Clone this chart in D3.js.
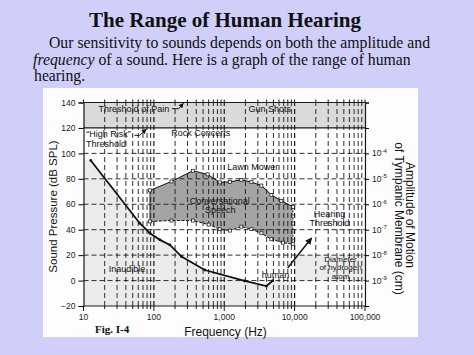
<!DOCTYPE html>
<html><head><meta charset="utf-8">
<script src="https://cdn.jsdelivr.net/npm/d3@7"></script>
<style>body{margin:0;background:#cfcff9;} svg{display:block}</style>
</head><body>
<script>
// ---- data ----
const freqTicks = [10, 100, 1000, 10000, 100000];
const freqTickLabels = ["10", "100", "1,000", "10,000", "100,000"];
const dbTicks = [-20, 0, 20, 40, 60, 80, 100, 120, 140];
const ampTickDb = [0, 20, 40, 60, 80, 100];
const ampExponents = ["-9", "-8", "-7", "-6", "-5", "-4"];

const thresholdFreq = [12.7, 63, 88, 122, 169, 247, 529, 1950, 3970, 4880];
const thresholdDb   = [94.4, 45.1, 37.2, 32, 28, 18.8, 8.3, -0.3, -4.3, -0.1];

const speechUpperFreq = [88, 178, 357, 580, 860, 1200, 1750, 2430, 3370, 4670, 6480, 9500];
const speechUpperDb   = [70.9, 77.9, 86.3, 83.5, 77.2, 77.6, 79.2, 77.4, 74.7, 67.4, 62.7, 58];
const speechLowerFreq = [88, 178, 360, 600, 860, 1200, 1750, 2430, 3370, 4670, 6800, 9500];
const speechLowerDb   = [46.5, 47.2, 47.2, 44, 40.4, 39.3, 42.4, 40.4, 37.2, 32.5, 29.8, 28.6];

const painBandDb = [120, 140];
const hydrogenBandDb = [0, 20];
const hydrogenBandFreq = [10000, 100000];
const humanArrowFreq = [7960, 17400];
const humanArrowDb = [9.9, 33.5];

// ---- drawing ----
const W = 474, H = 355;
const svg = d3.select("body").append("svg").attr("width", W).attr("height", H)
  .style("font-family", "'Liberation Sans', Arial, sans-serif");

svg.append("rect").attr("width", W).attr("height", H).attr("fill", "#cfcff9");

// title & paragraph
const serif = "'Liberation Serif', 'Times New Roman', serif";
svg.append("text").attr("x", 225).attr("y", 27).attr("text-anchor", "middle")
  .attr("font-family", serif).attr("font-weight", "bold").attr("font-size", 21)
  .attr("fill", "#111").text("The Range of Human Hearing");
const para = svg.append("g").attr("font-family", serif).attr("font-size", 15.75).attr("fill", "#111");
para.append("text").attr("x", 49).attr("y", 48).text("Our sensitivity to sounds depends on both the amplitude and");
const l2 = para.append("text").attr("x", 33).attr("y", 64.5);
l2.append("tspan").attr("font-style", "italic").text("frequency");
l2.append("tspan").text(" of a sound. Here is a graph of the range of human");
para.append("text").attr("x", 34).attr("y", 80.5).text("hearing.");

// white panel
svg.append("rect").attr("x", 43).attr("y", 88).attr("width", 375).attr("height", 249).attr("fill", "#fdfdfd");

const x = d3.scaleLog().domain([10, 100000]).range([83.5, 365]);
const y = d3.scaleLinear().domain([-20, 140]).range([306, 102.5]);

const g = svg.append("g");

// pain band
g.append("rect").attr("x", x(10)).attr("y", y(painBandDb[1]))
  .attr("width", x(100000) - x(10)).attr("height", y(painBandDb[0]) - y(painBandDb[1]))
  .attr("fill", "#dadada");

// inaudible region below threshold
const inaud = [[10, -20], [10, thresholdDb[0]]]
  .concat(thresholdFreq.map((f, i) => [f, thresholdDb[i]]))
  .concat([[10000, thresholdDb[thresholdDb.length - 1]], [10000, -20]]);
g.append("path").attr("d", d3.line().x(d => x(d[0])).y(d => y(d[1]))(inaud) + "Z")
  .attr("fill", "#ebebeb");

// hydrogen atom band
g.append("rect").attr("x", x(hydrogenBandFreq[0])).attr("y", y(hydrogenBandDb[1]))
  .attr("width", x(hydrogenBandFreq[1]) - x(hydrogenBandFreq[0]))
  .attr("height", y(hydrogenBandDb[0]) - y(hydrogenBandDb[1]))
  .attr("fill", "#ebebeb");

// speech region
const upper = speechUpperFreq.map((f, i) => [f, speechUpperDb[i]]);
const lower = speechLowerFreq.map((f, i) => [f, speechLowerDb[i]]);
const poly = upper.concat(lower.slice().reverse());
const line = d3.line().x(d => x(d[0])).y(d => y(d[1]));
g.append("path").attr("d", line(poly) + "Z").attr("fill", "#a4a4a4");

// grid
const minor = [];
[10, 100, 1000, 10000].forEach(d => { for (let m = 2; m <= 9; m++) minor.push(d * m); });
const verts = minor.concat([100, 1000, 10000]);
const dash = "5,3";
g.selectAll(".vg").data(verts).join("line")
  .attr("x1", d => x(d)).attr("x2", d => x(d)).attr("y1", y(-20)).attr("y2", y(140))
  .attr("stroke", "#1a1a1a").attr("stroke-width", d => freqTicks.includes(d) ? 1.2 : 0.9)
  .attr("stroke-dasharray", dash);
g.selectAll(".hg").data([0, 20, 40, 60, 80, 100]).join("line")
  .attr("x1", x(10)).attr("x2", x(100000)).attr("y1", d => y(d)).attr("y2", d => y(d))
  .attr("stroke", "#1a1a1a").attr("stroke-width", 0.9).attr("stroke-dasharray", dash);
// solid horizontals
g.selectAll(".hs").data([-20, 120, 140]).join("line")
  .attr("x1", x(10)).attr("x2", x(100000)).attr("y1", d => y(d)).attr("y2", d => y(d))
  .attr("stroke", "#1a1a1a").attr("stroke-width", 1.2);
// top/bottom small ticks
g.selectAll(".tt").data(verts.concat([10, 100000])).join("line")
  .attr("x1", d => x(d)).attr("x2", d => x(d)).attr("y1", y(140)).attr("y2", y(140) - 3)
  .attr("stroke", "#1a1a1a");
g.selectAll(".bt").data(verts.concat([10, 100000])).join("line")
  .attr("x1", d => x(d)).attr("x2", d => x(d)).attr("y1", y(-20))
  .attr("y2", d => y(-20) + (freqTicks.includes(d) ? 5 : 3))
  .attr("stroke", "#1a1a1a");

// left axis
const la = g.append("g").attr("transform", `translate(${x(10)},0)`)
  .call(d3.axisLeft(y).tickValues(dbTicks).tickSize(5).tickPadding(3));
la.select(".domain").attr("stroke", "#1a1a1a").attr("stroke-width", 1.2);
la.selectAll("text").attr("font-size", 8.5).attr("fill", "#222").attr("font-family", "'Liberation Sans', Arial, sans-serif");

// right axis
const ra = g.append("g").attr("transform", `translate(${x(100000)},0)`)
  .call(d3.axisRight(y).tickValues(dbTicks).tickSize(4).tickFormat(""));
ra.select(".domain").attr("stroke", "#1a1a1a").attr("stroke-width", 1.2);
const rl = g.selectAll(".rl").data(ampTickDb).join("text")
  .attr("x", x(100000) + 7).attr("y", d => y(d) + 3)
  .attr("font-size", 8.5).attr("fill", "#222");
rl.append("tspan").text("10");
rl.append("tspan").attr("dy", -3.5).attr("font-size", 6).text((d, i) => ampExponents[i]);

// bottom labels
g.selectAll(".xl").data(freqTicks).join("text")
  .attr("x", d => x(d)).attr("y", 320).attr("text-anchor", "middle")
  .attr("font-size", 8.5).attr("fill", "#222").text((d, i) => freqTickLabels[i]);

// speech boundary lines & markers
g.append("path").attr("d", line(upper)).attr("fill", "none").attr("stroke", "#111").attr("stroke-width", 1);
g.append("path").attr("d", line(lower)).attr("fill", "none").attr("stroke", "#111").attr("stroke-width", 1).attr("stroke-dasharray", "3,1.5");
g.append("path").attr("d", line([upper[0], lower[0]])).attr("stroke", "#111").attr("stroke-width", 0.8);
g.append("path").attr("d", line([upper[upper.length - 1], lower[lower.length - 1]])).attr("stroke", "#111").attr("stroke-width", 0.8).attr("stroke-dasharray", "2,1.5");
g.selectAll(".mk").data(upper.concat(lower)).join("rect")
  .attr("x", d => x(d[0]) - 1.5).attr("y", d => y(d[1]) - 1.5).attr("width", 3).attr("height", 3)
  .attr("fill", "#fff").attr("stroke", "#111").attr("stroke-width", 0.7);

// hearing threshold
const thr = thresholdFreq.map((f, i) => [f, thresholdDb[i]]);
g.append("path").attr("d", line(thr)).attr("fill", "none").attr("stroke", "#111").attr("stroke-width", 1.8);
g.selectAll(".td").data(thr).join("circle").attr("cx", d => x(d[0])).attr("cy", d => y(d[1])).attr("r", 1.4).attr("fill", "#111");

// arrows
svg.append("defs").append("marker").attr("id", "ah").attr("viewBox", "0 0 10 10")
  .attr("refX", 9).attr("refY", 5).attr("markerWidth", 5).attr("markerHeight", 5).attr("orient", "auto")
  .append("path").attr("d", "M0,0L10,5L0,10Z").attr("fill", "#111");
g.append("path").attr("d", line(humanArrowFreq.map((f, i) => [f, humanArrowDb[i]])))
  .attr("stroke", "#111").attr("stroke-width", 1.4).attr("marker-end", "url(#ah)");
g.append("path").attr("d", line([[180, 135.1], [225, 135.1], [262, 139.3]]))
  .attr("fill", "none").attr("stroke", "#111").attr("stroke-width", 1).attr("marker-end", "url(#ah)");
g.append("path").attr("d", line([[53, 114.2], [63, 114.2], [78, 119]]))
  .attr("fill", "none").attr("stroke", "#111").attr("stroke-width", 1).attr("marker-end", "url(#ah)");

// annotations
const notes = [
  ["Threshold of Pain", 52, 132.8],
  ["\u201CHigh Risk\u201D", 22.6, 113.1],
  ["Threshold", 20.9, 104.8],
  ["Rock Concerts", 464, 113.5],
  ["Gun Shots", 4416, 132.8],
  ["Lawn Mower", 2535, 87.1],
  ["Conversational", 863, 60.3],
  ["Speech", 880, 53.2],
  ["Inaudible", 41.4, 6.4],
  ["human", 5370, 2.0],
  ["Hearing", 31300, 50.1],
  ["Threshold", 31300, 43],
  ["Diameter", 44900, 14.3],
  ["of hydrogen", 44900, 8],
  ["atom", 44900, 1.3]
];
g.selectAll(".nt").data(notes).join("text")
  .attr("x", d => x(d[1])).attr("y", d => y(d[2])).attr("text-anchor", "middle")
  .attr("font-size", d => d[2] < 16 && d[1] > 40000 ? 8 : 9).attr("fill", "#111").text(d => d[0]);

// axis titles
svg.append("text").attr("transform", "translate(56.5,206.5) rotate(-90)").attr("text-anchor", "middle")
  .attr("font-size", 11.5).attr("fill", "#111").text("Sound Pressure (dB SPL)");
svg.append("text").attr("transform", "translate(406,215) rotate(90)").attr("text-anchor", "middle")
  .attr("font-size", 12).attr("fill", "#111").text("Amplitude of Motion");
svg.append("text").attr("transform", "translate(394.5,218.5) rotate(90)").attr("text-anchor", "middle")
  .attr("font-size", 12).attr("fill", "#111").text("of Tympanic Membrane (cm)");
svg.append("text").attr("x", 225.5).attr("y", 336).attr("text-anchor", "middle")
  .attr("font-size", 12).attr("fill", "#111").text("Frequency (Hz)");
svg.append("text").attr("x", 95).attr("y", 333).attr("font-family", serif).attr("font-weight", "bold")
  .attr("font-size", 11).attr("fill", "#111").text("Fig. I-4");
</script>
</body></html>
